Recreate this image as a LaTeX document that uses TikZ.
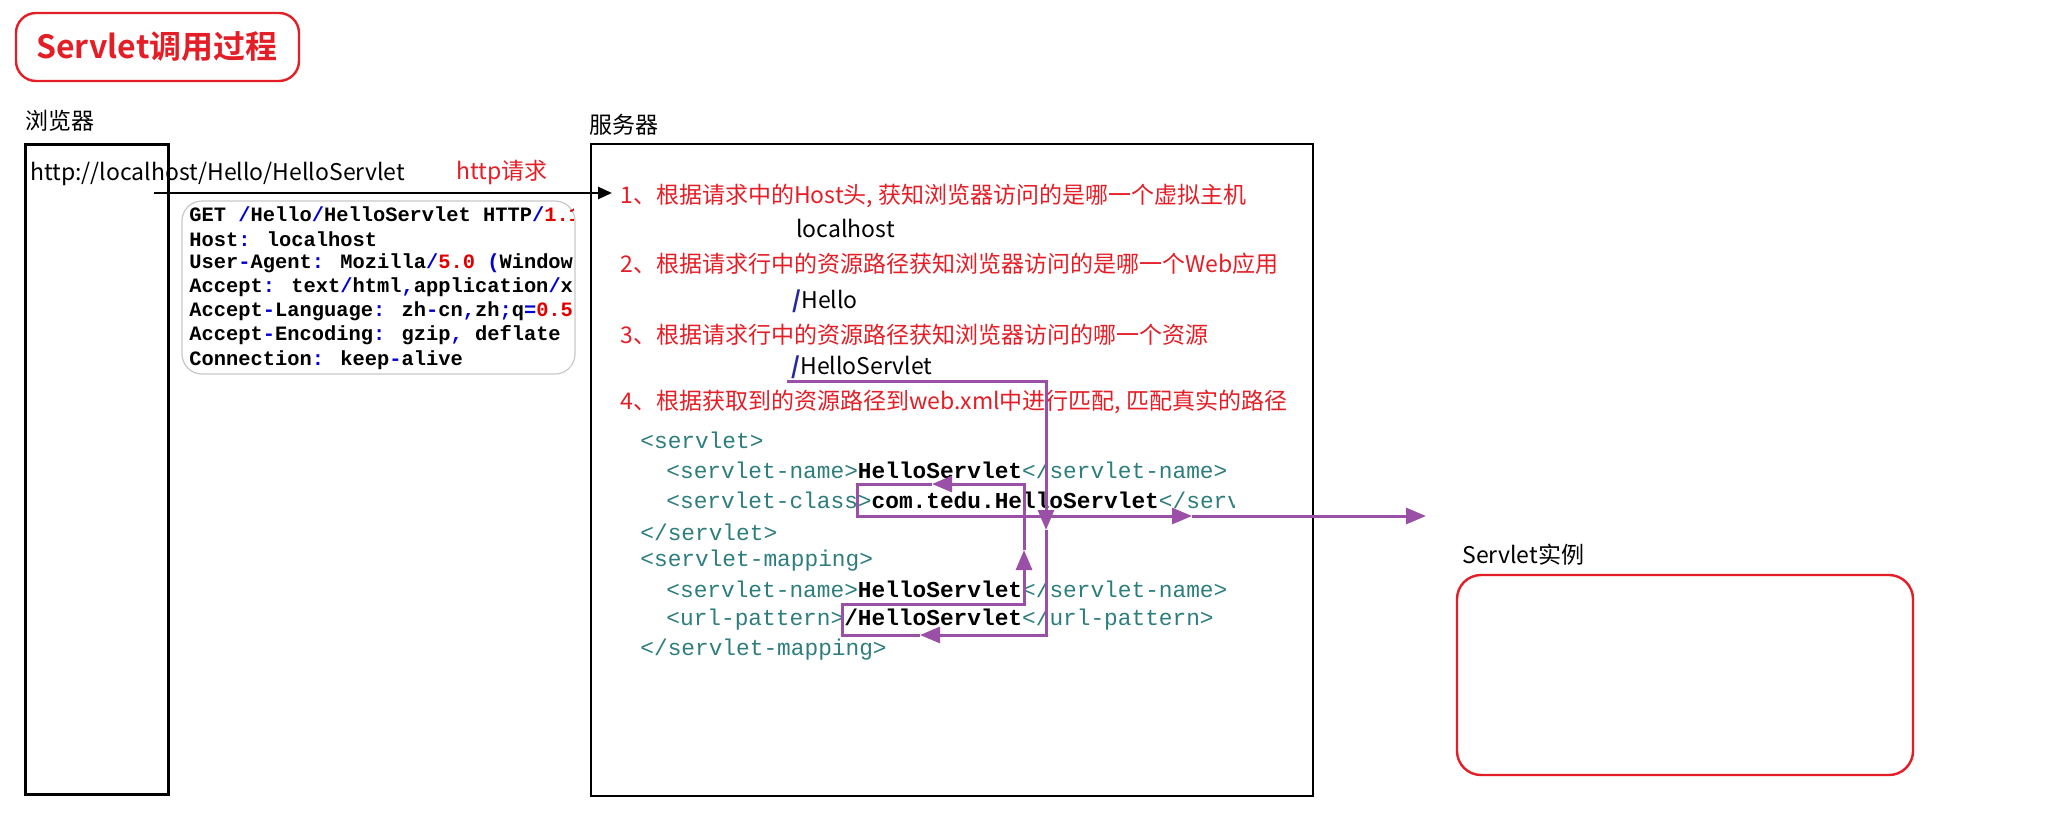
\documentclass[tikz,border=0pt]{standalone}
\usepackage{fontspec}
\setmainfont{Noto Sans CJK SC}
\newfontfamily\cjkb{Noto Sans CJK SC Bold}
\newfontfamily\monob{Liberation Mono}[BoldFont={* Bold}]
\usetikzlibrary{arrows.meta}
\definecolor{tred}{RGB}{228,30,38}
\definecolor{purp}{RGB}{155,80,168}
\definecolor{teal2}{RGB}{45,125,125}
\definecolor{rqb}{RGB}{0,0,210}
\definecolor{rqr}{RGB}{225,0,0}
\definecolor{navy}{RGB}{40,40,160}
\newcommand{\Bl}[1]{\textcolor{rqb}{#1}}
\newcommand{\Rd}[1]{\textcolor{rqr}{#1}}
\newcommand{\Tg}[1]{\textcolor{teal2}{#1}}
\tikzset{
  lbl/.style={anchor=west,inner sep=0pt,font=\fontsize{11.5pt}{13pt}\selectfont},
  redtxt/.style={lbl,text=tred},
  req/.style={anchor=west,inner sep=0pt,font=\monob\bfseries\fontsize{10.2pt}{12pt}\selectfont},
  xml/.style={anchor=west,inner sep=0pt,font=\monob\fontsize{11.4pt}{13pt}\selectfont},
  flow/.style={draw=purp,line width=1.5pt},
  ftip/.style={-{Triangle[length=10pt,width=8pt]}},
}
\begin{document}
\begin{tikzpicture}[x=0.5pt,y=-0.5pt]
\useasboundingbox (0,0) rectangle (2048,814);
% title
\draw[tred,line width=1.2pt,rounded corners=10pt] (16,13) rectangle (299,81);
\node[anchor=center,inner sep=0pt,text=tred,font=\cjkb\fontsize{16pt}{18pt}\selectfont] (title) at (157,47) {Servlet调用过程};
% browser
\node[lbl] (blabel) at (25,121) {浏览器};
\draw[line width=1.5pt] (168,794) -- (168,144) -- (25,144) -- (25,794) -- cycle;
\node[lbl] (url) at (30,174) {http://localhost/Hello/HelloServlet};
\node[redtxt] (httpreq) at (456,172) {http请求};
% server
\node[lbl] (slabel) at (589,125) {服务器};
\draw[line width=1.3pt] (591,144) rectangle (1313,796);
\draw[line width=1.3pt,-{Triangle[length=7pt,width=6pt]}] (154,193) -- (612,193);
% request box
\draw[draw=black!22,line width=0.6pt,rounded corners=10pt] (182,201) rectangle (575,374);
\begin{scope}
\clip (182,201) rectangle (573,374);
\node[req] (r1) at (189,214) {GET \Bl{/}Hello\Bl{/}HelloServlet HTTP\Bl{/}\Rd{1.1}};
\node[req] (r2) at (189,239) {Host\Bl{:} localhost};
\node[req] (r3) at (189,263) {User\Bl{-}Agent\Bl{:} Mozilla\Bl{/}\Rd{5.0} \Bl{(}Windows NT};
\node[req] (r4) at (189,287) {Accept\Bl{:} text\Bl{/}html\Bl{,}application\Bl{/}xhtml};
\node[req] (r5) at (189,311) {Accept\Bl{-}Language\Bl{:} zh\Bl{-}cn\Bl{,}zh\Bl{;}q\Bl{=}\Rd{0.5}};
\node[req] (r6) at (189,335) {Accept\Bl{-}Encoding\Bl{:} gzip\Bl{,} deflate};
\node[req] (r7) at (189,360) {Connection\Bl{:} keep\Bl{-}alive};
\end{scope}
% steps
\node[redtxt] (s1) at (620,196) {1、根据请求中的Host头, 获知浏览器访问的是哪一个虚拟主机};
\node[lbl] (v1) at (796,228) {localhost};
\node[redtxt] (s2) at (620,264) {2、根据请求行中的资源路径获知浏览器访问的是哪一个Web应用};
\node[lbl] (v2) at (792,301) {\textcolor{navy}{\bfseries /}Hello};
\node[redtxt] (s3) at (620,335) {3、根据请求行中的资源路径获知浏览器访问的哪一个资源};
\node[lbl] (v3) at (791,367) {\textcolor{navy}{\bfseries /}HelloServlet};
\node[redtxt] (s4) at (620,402) {4、根据获取到的资源路径到web.xml中进行匹配, 匹配真实的路径};
% xml
\node[xml] (x1) at (640,440) {\Tg{<servlet>}};
\node[xml] (x2) at (666,470) {\Tg{<servlet-name>}\textbf{HelloServlet}\Tg{</servlet-name>}};
\begin{scope}
\clip (660,480) rectangle (1234,520);
\node[xml] (x3) at (666,500) {\Tg{<servlet-class>}\textbf{com.tedu.HelloServlet}\Tg{</servlet-class>}};
\end{scope}
\node[xml] (x4) at (640,532) {\Tg{</servlet>}};
\node[xml] (x5) at (640,561) {\Tg{<servlet-mapping>}};
\node[xml] (x6) at (666,589) {\Tg{<servlet-name>}\textbf{HelloServlet}\Tg{</servlet-name>}};
\node[xml] (x7) at (666,620) {\Tg{<url-pattern>}\textbf{/HelloServlet}\Tg{</url-pattern>}};
\node[xml] (x8) at (640,650) {\Tg{</servlet-mapping>}};
% servlet instance
\node[lbl] (ilabel) at (1462,555) {Servlet实例};
\draw[tred,line width=1.2pt,rounded corners=12pt] (1457,575) rectangle (1913,775);
% purple flow
\coordinate (p0) at (787,381);
\coordinate (p1) at (1046,381);
\coordinate (p2) at (1046,530);
\coordinate (p3) at (1046,635);
\coordinate (p4) at (920,635);
\coordinate (p5) at (842,635);
\coordinate (p6) at (842,604);
\coordinate (p7) at (1024,604);
\coordinate (p8) at (1024,550);
\coordinate (p9) at (1024,484);
\coordinate (p10) at (932,484);
\coordinate (p11) at (857,484);
\coordinate (p12) at (857,516);
\coordinate (p13) at (1192,516);
\coordinate (p14) at (1426,516);
\draw[flow,ftip] (p0) -- (p1) -- (p2);
\draw[flow,ftip] (p2) -- (p3) -- (p4);
\draw[flow,ftip] (p4) -- (p5) -- (p6) -- (p7) -- (p8);
\draw[flow,ftip] (p8) -- (p9) -- (p10);
\draw[flow,ftip] (p10) -- (p11) -- (p12) -- (p13);
\draw[flow,ftip] (p13) -- (p14);
\end{tikzpicture}
\end{document}
